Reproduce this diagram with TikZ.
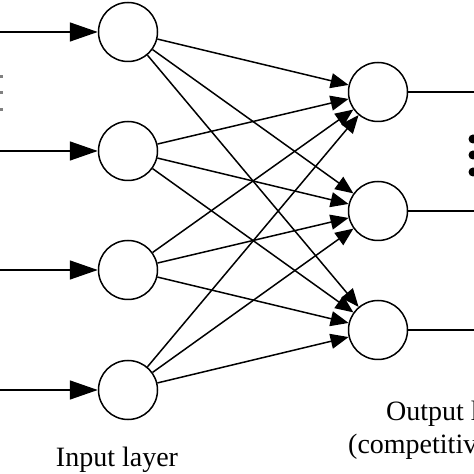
\documentclass[tikz,border=0pt]{standalone}
\usepackage{fontspec}
\setmainfont{Liberation Serif}
\usetikzlibrary{arrows.meta}
\tikzset{
  neuron/.style={circle,draw,line width=1.5pt,minimum size=59pt,inner sep=0pt,fill=white},
  inedge/.style={-{Triangle[length=28pt,width=19pt]},line width=1.6pt},
  edge/.style={-{Triangle[length=18pt,width=15pt]},line width=1.5pt},
  outedge/.style={line width=1.6pt},
  layerlabel/.style={font=\fontsize{28}{33}\selectfont,anchor=base,inner sep=0pt},
  bigdot/.style={circle,fill=black,minimum size=9pt,inner sep=0pt},
  smalldot/.style={rectangle,fill=gray,minimum size=3pt,inner sep=0pt},
}
\begin{document}
\begin{tikzpicture}[x=1pt,y=1pt]
  \useasboundingbox (0,0) rectangle (474,474);
  \clip (0,0) rectangle (474,474);
  % input layer
  \foreach \i/\y in {1/442,2/323,3/204,4/84} {
    \node[neuron] (in\i) at (128,\y) {};
    \coordinate (src\i) at (0,\y);
    \draw[inedge] (src\i) -- (in\i);
  }
  % output layer
  \foreach \j/\y in {1/382,2/263,3/144} {
    \node[neuron] (out\j) at (378,\y) {};
    \coordinate (dst\j) at (474,\y);
    \draw[outedge] (out\j) -- (dst\j);
  }
  % full connections
  \foreach \i in {1,...,4}
    \foreach \j in {1,2,3}
      \draw[edge] (in\i) -- (out\j);
  % dots
  \foreach \y in {397,381,364} \node[smalldot] (ld\y) at (1,\y) {};
  \foreach \y in {335,319,302} \node[bigdot] (rd\y) at (473,\y) {};
  % labels
  \node[layerlabel] (inlabel) at (117,7) {Input layer};
  \node[layerlabel,anchor=base west] (outlabel) at (386,53) {Output layer};
  \node[layerlabel,anchor=base west] (complabel) at (348,20) {(competitive layer)};
\end{tikzpicture}
\end{document}
